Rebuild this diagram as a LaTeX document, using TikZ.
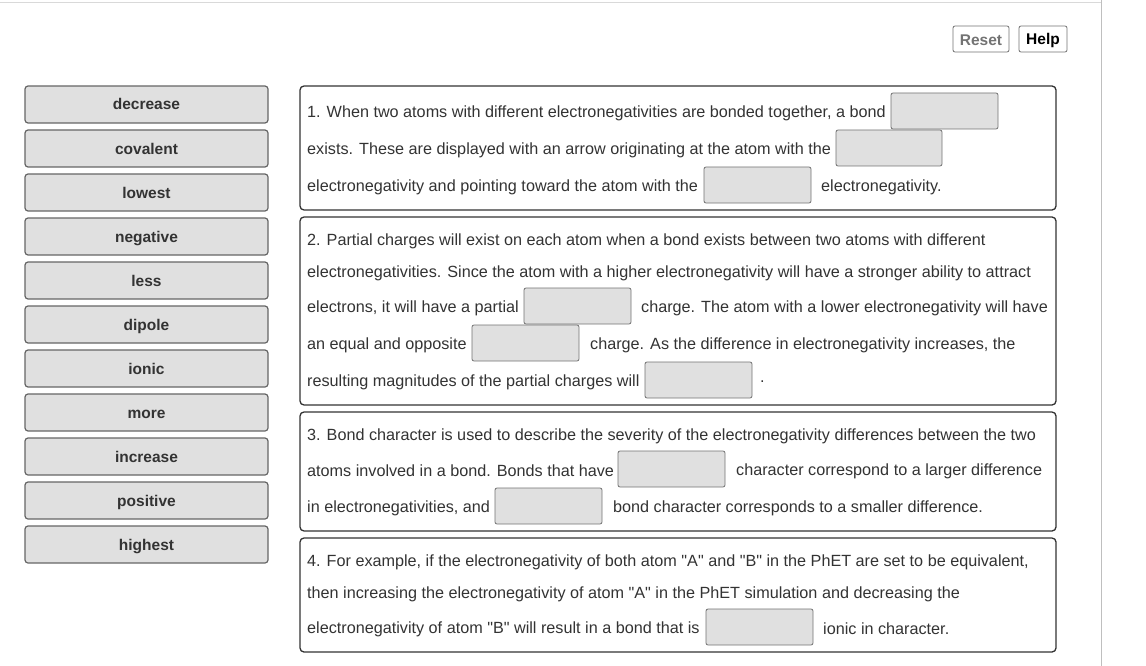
\documentclass[tikz,border=0pt]{standalone}
\usepackage{fontspec}
\setmainfont{Liberation Sans}[Ligatures=TeXOff]
\begin{document}
\begin{tikzpicture}[x=1pt,y=-1pt,
  tile/.style={draw=black!60,fill=black!12,rounded corners=3pt,line width=1.2pt},
  tiletext/.style={anchor=base,inner sep=0pt,font=\fontsize{15.5}{18}\selectfont\bfseries,text=black!80},
  qbox/.style={draw=black!80,rounded corners=4pt,line width=1.3pt},
  blank/.style={draw=black!55,fill=black!12,rounded corners=2pt,line width=0.8pt},
  tx/.style={anchor=west,inner sep=0pt,font=\fontsize{16.2}{19}\selectfont,text=black!80},
  btn/.style={draw=black!55,rounded corners=2pt,line width=0.8pt,font=\fontsize{15}{18}\selectfont\bfseries}]
\useasboundingbox (0,0) rectangle (1146,666);
\fill[white] (0,0) rectangle (1146,666);
\draw[black!15] (0,2) -- (1101,2);
\draw[black!25] (1101,0) -- (1101,666);
\draw[btn] (953,26) rectangle (1009,52); \node[text=black!55,font=\fontsize{15.5}{18}\selectfont\bfseries] (reset) at (981,40) {Reset};
\draw[btn] (1019,26) rectangle (1067,52); \node[font=\fontsize{15.5}{18}\selectfont\bfseries] (help) at (1043,40) {Help};
\foreach \w [count=\i from 0] in {decrease,covalent,lowest,negative,less,dipole,ionic,more,increase,positive,highest}{
  \draw[tile] (25,86+44*\i) rectangle (268,123+44*\i);
  \node[tiletext] (t\i) at (146.5,110+44*\i) {\w};
}
\draw[qbox] (300,86) rectangle (1056,210);
\draw[qbox] (300,217) rectangle (1056,405);
\draw[qbox] (300,412) rectangle (1056,531);
\draw[qbox] (300,538) rectangle (1056,652);
\foreach \a/\b/\y in {891/998/111,836/942/148,704/811/185,524/631/306,472/579/343,645/752/380,618/725/469,495/602/506,706/813/627}
  \draw[blank] (\a,\y-18) rectangle (\b,\y+18);
\begin{scope}[yshift=-2pt]
\node[tx] (l1) at (307,111) {1. When two atoms with different electronegativities are bonded together, a bond};
\node[tx] (l2) at (307,148) {exists. These are displayed with an arrow originating at the atom with the};
\node[tx] (l3) at (307,185) {electronegativity and pointing toward the atom with the};
\node[tx] (l3b) at (821,185) {electronegativity.};
\node[tx] (m1) at (307,239) {2. Partial charges will exist on each atom when a bond exists between two atoms with different};
\node[tx] (m2) at (307,271) {electronegativities. Since the atom with a higher electronegativity will have a stronger ability to attract};
\node[tx] (m3) at (307,306) {electrons, it will have a partial};
\node[tx] (m3b) at (641,306) {charge. The atom with a lower electronegativity will have};
\node[tx] (m4) at (307,343) {an equal and opposite};
\node[tx] (m4b) at (590,343) {charge. As the difference in electronegativity increases, the};
\node[tx] (m5) at (307,380) {resulting magnitudes of the partial charges will};
\node[tx] (m5b) at (760,380) {.};
\node[tx] (n1) at (307,434) {3. Bond character is used to describe the severity of the electronegativity differences between the two};
\node[tx] (n2) at (307,469) {atoms involved in a bond. Bonds that have};
\node[tx] (n2b) at (736,469) {character correspond to a larger difference};
\node[tx] (n3) at (307,506) {in electronegativities, and};
\node[tx] (n3b) at (613,506) {bond character corresponds to a smaller difference.};
\node[tx] (o1) at (307,560) {4. For example, if the electronegativity of both atom "A" and "B" in the PhET are set to be equivalent,};
\node[tx] (o2) at (307,592) {then increasing the electronegativity of atom "A" in the PhET simulation and decreasing the};
\node[tx] (o3) at (307,627) {electronegativity of atom "B" will result in a bond that is};
\node[tx] (o3b) at (823,627) {ionic in character.};
\end{scope}
\end{tikzpicture}
\end{document}
